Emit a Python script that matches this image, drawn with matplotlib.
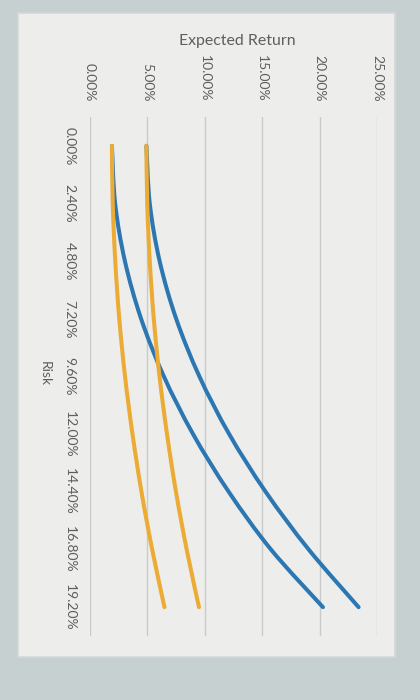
import matplotlib
matplotlib.use("Agg")
import matplotlib.pyplot as plt
from matplotlib.path import Path
from matplotlib.patches import PathPatch, Rectangle
from matplotlib.ticker import FuncFormatter

# risk (%) categories and expected return (%) for each curve
risk = [0.0, 2.4, 4.8, 7.2, 9.6, 12.0, 14.4, 16.8, 19.2]
orange_low = [1.95, 2.02, 2.24, 2.59, 3.09, 3.74, 4.52, 5.45, 6.52]
orange_high = [4.95, 5.02, 5.24, 5.59, 6.09, 6.74, 7.52, 8.45, 9.52]
blue_low = [1.95, 2.23, 3.08, 4.49, 6.47, 9.01, 12.11, 15.78, 20.30]
blue_high = [4.95, 5.24, 6.10, 7.54, 9.56, 12.15, 15.32, 19.06, 23.40]
return_ticks = [0, 5, 10, 15, 20, 25]

ORANGE = "#EBAB34"
BLUE = "#2C77B1"
TEXT = "#5E5E5E"
GRID = "#CACACA"

plt.rcParams["font.family"] = ["Lato", "DejaVu Sans"]


def smooth_line(ax, xs, ys, color, z):
    # excel style smoothed line, drawn as bezier segments
    pts = list(zip(xs, ys))
    verts = [pts[0]]
    codes = [Path.MOVETO]
    n = len(pts)
    for i in range(n - 1):
        p0 = pts[i - 1] if i > 0 else pts[i]
        p1 = pts[i]
        p2 = pts[i + 1]
        p3 = pts[i + 2] if i + 2 < n else pts[i + 1]
        c1 = (p1[0] + (p2[0] - p0[0]) / 6, p1[1] + (p2[1] - p0[1]) / 6)
        c2 = (p2[0] - (p3[0] - p1[0]) / 6, p2[1] - (p3[1] - p1[1]) / 6)
        verts += [c1, c2, p2]
        codes += [Path.CURVE4] * 3
    patch = PathPatch(Path(verts, codes), facecolor="none", edgecolor=color,
                      lw=2.9, capstyle="round", joinstyle="round", zorder=z)
    ax.add_patch(patch)


fig = plt.figure(figsize=(4.2, 7), dpi=100)
fig.patch.set_facecolor("#C6D0D0")

# chart area of the screenshot
fig.patches.append(Rectangle((18 / 420, 1 - 657 / 700), 377 / 420, 644 / 700,
                             transform=fig.transFigure, facecolor="#EDEDEB",
                             edgecolor="#D6D8D8", lw=1.2, zorder=-5))

ax = fig.add_axes([89.5 / 420, 1 - 636 / 700, 287.5 / 420, 519 / 700])
ax.set_facecolor("none")
ax.set_zorder(2)
ax.set_xlim(0, 25)
ax.set_ylim(20.4, -1.2)

for s in ax.spines.values():
    s.set_visible(False)

ax.set_xticks(return_ticks)
ax.set_yticks(risk)
ax.grid(axis="x", color=GRID, lw=1.0)
ax.xaxis.tick_top()
ax.xaxis.set_major_formatter(FuncFormatter(lambda v, p: f"{v:.2f}%"))
ax.yaxis.set_major_formatter(FuncFormatter(lambda v, p: f"{v:.2f}%"))
ax.tick_params(axis="x", length=0, pad=11, labelsize=10, colors=TEXT, labelrotation=-90)
ax.tick_params(axis="y", length=0, pad=10, labelsize=10, colors=TEXT, labelrotation=-90)
for lab in ax.get_yticklabels():
    lab.set_va("center")

smooth_line(ax, blue_low, risk, BLUE, 3)
smooth_line(ax, blue_high, risk, BLUE, 3)
smooth_line(ax, orange_low, risk, ORANGE, 4)
smooth_line(ax, orange_high, risk, ORANGE, 4)

fig.text(237.5 / 420, 1 - 41.5 / 700, "Expected Return", ha="center", va="center",
         fontsize=11.4, color=TEXT)
fig.text(45 / 420, 1 - 374 / 700, "Risk", ha="center", va="center",
         fontsize=10, color=TEXT, rotation=-90)

fig.savefig("out.png", dpi=100, facecolor=fig.get_facecolor())
